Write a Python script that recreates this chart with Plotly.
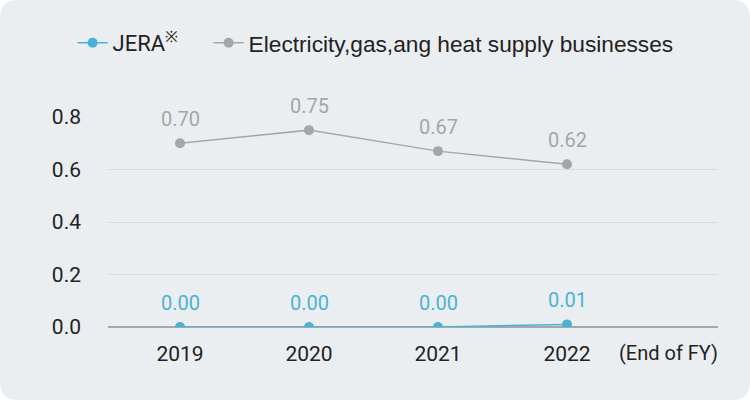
import plotly.graph_objects as go

years = ["2019", "2020", "2021", "2022"]
jera = [0.00, 0.00, 0.00, 0.01]
industry = [0.70, 0.75, 0.67, 0.62]
jera_labels = ["0.00", "0.00", "0.00", "0.01"]
industry_labels = ["0.70", "0.75", "0.67", "0.62"]
y_ticks = [0.0, 0.2, 0.4, 0.6, 0.8]
y_tick_labels = ["0.0", "0.2", "0.4", "0.6", "0.8"]

BLUE = "#49B3D6"
GRAY = "#A6A6A6"
BG = "#EBEEF1"
W, H = 750, 400
L, R, T, B = 108, 32, 117, 73
FONT = "Roboto"
LEGEND_FONT = "Liberation Sans"

xs = list(range(len(years)))

fig = go.Figure()
fig.add_trace(go.Scatter(
    x=xs, y=jera, name="JERA<sup>※</sup>", mode="lines+markers",
    line=dict(color=BLUE, width=1.5), marker=dict(color=BLUE, size=10),
    legend="legend",
))
fig.add_trace(go.Scatter(
    x=xs, y=industry, name="Electricity,gas,ang heat supply businesses",
    mode="lines+markers",
    line=dict(color=GRAY, width=1.5), marker=dict(color=GRAY, size=10),
    legend="legend2",
))

for x, y, t in zip(xs, jera, jera_labels):
    fig.add_annotation(x=x, y=y, text=t, showarrow=False, yshift=24,
                       font=dict(color=BLUE, size=20, family=FONT))
for x, y, t in zip(xs, industry, industry_labels):
    fig.add_annotation(x=x, y=y, text=t, showarrow=False, yshift=24,
                       font=dict(color=GRAY, size=20, family=FONT))

pw, ph = W - L - R, H - T - B

fig.add_annotation(xref="paper", yref="paper", x=(668 - L) / pw, y=0,
                   xanchor="center", yanchor="middle",
                   yshift=-26, text="(End of FY)", showarrow=False,
                   font=dict(color="#222222", size=20, family=FONT))

# rounded background
def px(v):
    return (v - L) / pw
def py(v):
    return (H - B - v) / ph
rad = 18
x0, x1, y0, y1 = 0, W, 0, H
path = (f"M {px(x0+rad)} {py(y0)} L {px(x1-rad)} {py(y0)} "
        f"Q {px(x1)} {py(y0)} {px(x1)} {py(y0+rad)} L {px(x1)} {py(y1-rad)} "
        f"Q {px(x1)} {py(y1)} {px(x1-rad)} {py(y1)} L {px(x0+rad)} {py(y1)} "
        f"Q {px(x0)} {py(y1)} {px(x0)} {py(y1-rad)} L {px(x0)} {py(y0+rad)} "
        f"Q {px(x0)} {py(y0)} {px(x0+rad)} {py(y0)} Z")
fig.add_shape(type="path", xref="paper", yref="paper", path=path,
              fillcolor=BG, line=dict(width=0), layer="below")

legend_common = dict(orientation="h", xanchor="left", y=1.0 + (117 - 43) / ph,
                     yanchor="middle", bgcolor="rgba(0,0,0,0)", itemwidth=30)

fig.update_layout(
    width=W, height=H,
    margin=dict(l=L, r=R, t=T, b=B, pad=0, autoexpand=False),
    paper_bgcolor="white", plot_bgcolor="rgba(0,0,0,0)",
    font=dict(family=FONT, size=21, color="#222222"),
    showlegend=True,
    legend=dict(x=-0.058, font=dict(size=22, color="#222222", family=FONT),
                **legend_common),
    legend2=dict(x=(208.6 - L) / pw,
                 font=dict(size=22.7, color="#222222", family=LEGEND_FONT),
                 **legend_common),
    xaxis=dict(range=[-72 / 129, 3 + 151 / 129], tickvals=xs, ticktext=years,
               showgrid=False, zeroline=False, showline=False, ticks="",
               ticklabelstandoff=12,
               tickfont=dict(size=21, color="#222222")),
    yaxis=dict(range=[0, 0.8], tickvals=y_ticks, ticktext=y_tick_labels,
               showgrid=True, gridcolor="#D3DDE6", gridwidth=1,
               zeroline=True, zerolinecolor="#A8A8A8", zerolinewidth=2,
               showline=False, ticks="", ticklabelstandoff=26,
               tickfont=dict(size=21, color="#222222")),
)

fig.write_html("out.html", config={"displayModeBar": False},
               post_script="document.body.style.margin='0';")
